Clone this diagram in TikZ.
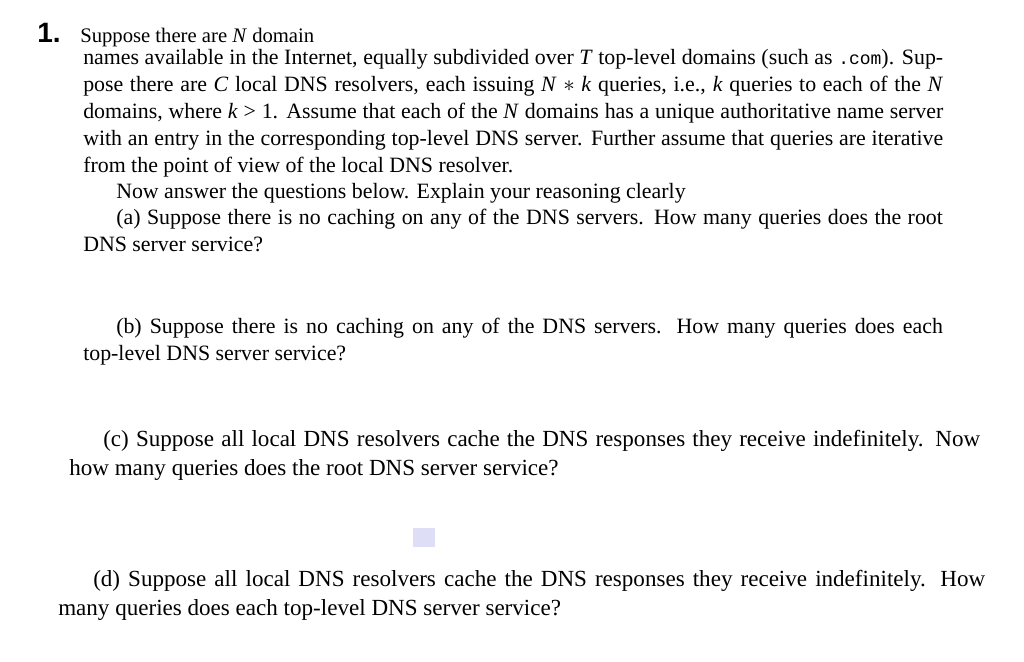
\documentclass[tikz,border=0pt]{standalone}
\usepackage{fontspec}
\setmainfont{Liberation Serif}
\setmonofont{Liberation Mono}
\newfontfamily\numfont{Liberation Sans}
\definecolor{boxlav}{RGB}{222,222,246}
\newcommand{\jline}[2]{\makebox[#1][s]{#2}}
\begin{document}
\begin{tikzpicture}[x=0.75pt,y=-0.75pt,
  txt/.style={anchor=base west, inner sep=0pt, font=\fontsize{16.4}{19}\selectfont},
  big/.style={txt, font=\fontsize{17.3}{20}\selectfont}]
\useasboundingbox (0,0) rectangle (1024,661);
% number and first line
\node[anchor=base west, inner sep=0pt, font=\numfont\bfseries\fontsize{21}{24}\selectfont] (num) at (37,42) {1.};
\node[txt, font=\fontsize{15.5}{18}\selectfont] (l0) at (80,42) {Suppose there are \textit{N} domain};
% main paragraph
\node[txt] (l1) at (83,64) {\jline{645pt}{names available in the Internet, equally subdivided over \textit{T} top-level domains (such as \texttt{\fontsize{13.5}{15}\selectfont.com}). Sup-}};
\node[txt] (l2) at (83,91) {\jline{645pt}{pose there are \textit{C} local DNS resolvers, each issuing \textit{N} $*$ \textit{k} queries, i.e., \textit{k} queries to each of the \textit{N}}};
\node[txt] (l3) at (83,118) {\jline{645pt}{domains, where \textit{k} > 1. Assume that each of the \textit{N} domains has a unique authoritative name server}};
\node[txt] (l4) at (83,145) {\jline{645pt}{with an entry in the corresponding top-level DNS server. Further assume that queries are iterative}};
\node[txt] (l5) at (83,172) {from the point of view of the local DNS resolver.};
\node[txt] (l6) at (116,198) {Now answer the questions below. Explain your reasoning clearly};
% (a)
\node[txt] (a1) at (116,224) {\jline{620pt}{(a) Suppose there is no caching on any of the DNS servers. How many queries does the root}};
\node[txt] (a2) at (83,251) {DNS server service?};
% (b)
\node[txt] (b1) at (116,333) {\jline{620pt}{(b) Suppose there is no caching on any of the DNS servers. How many queries does each}};
\node[txt] (b2) at (83,360) {top-level DNS server service?};
% (c)
\node[big] (c1) at (103,446) {\jline{657.75pt}{(c) Suppose all local DNS resolvers cache the DNS responses they receive indefinitely. Now}};
\node[big] (c2) at (69,475) {how many queries does the root DNS server service?};
% small square
\fill[boxlav] (413,528) rectangle (435,547);
% (d)
\node[big] (d1) at (93,586) {\jline{669pt}{(d) Suppose all local DNS resolvers cache the DNS responses they receive indefinitely. How}};
\node[big] (d2) at (58,615) {many queries does each top-level DNS server service?};
\end{tikzpicture}
\end{document}
